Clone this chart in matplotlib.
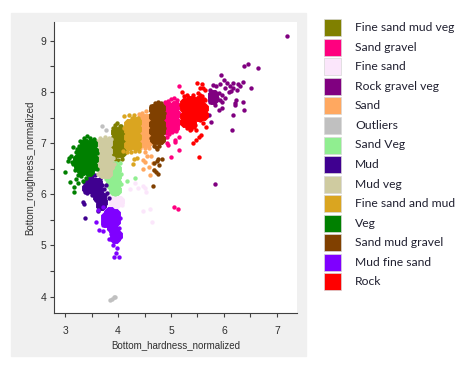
import matplotlib
matplotlib.use("Agg")
import matplotlib.pyplot as plt
from matplotlib.patches import Rectangle

# legend order, also the drawing order
labels = ["Fine sand mud veg", "Sand gravel", "Fine sand", "Rock gravel veg", "Sand", "Outliers",
          "Sand Veg", "Mud", "Mud veg", "Fine sand and mud", "Veg", "Sand mud gravel",
          "Mud fine sand", "Rock"]
colors = ["#808000", "#FF007F", "#FBE6FB", "#800080", "#FFA860", "#C0C0C0", "#90EE90",
          "#3F0090", "#CFCBA0", "#DAA520", "#008000", "#804000", "#7F00FF", "#FF0000"]

# dense middle of each cluster (hardness, roughness)
core = {
    "Mud veg": [(3.69, 7.0), (3.79, 7.0), (3.69, 6.85), (3.8, 6.85), (3.69, 6.7), (3.81, 6.7),
                (3.7, 6.55), (3.83, 6.55), (3.72, 6.42), (3.8, 6.42)],
    "Fine sand mud veg": [(3.96, 7.22), (4.05, 7.22), (3.96, 7.08), (4.05, 7.08), (3.96, 6.94), (4.05, 6.94),
                          (3.97, 6.82), (4.05, 6.82)],
    "Fine sand and mud": [(4.2, 7.38), (4.33, 7.42), (4.2, 7.25), (4.33, 7.27), (4.2, 7.12), (4.33, 7.12),
                          (4.21, 6.97), (4.33, 6.97)],
    "Sand": [(4.46, 7.48), (4.54, 7.48), (4.46, 7.33), (4.54, 7.33), (4.46, 7.18), (4.54, 7.18),
             (4.47, 7.03), (4.54, 7.03)],
    "Sand gravel": [(4.95, 7.7), (5.08, 7.72), (4.95, 7.57), (5.08, 7.57), (4.95, 7.42), (5.08, 7.42),
                    (4.97, 7.32), (5.06, 7.32)],
    "Fine sand": [(3.92, 5.87), (4.02, 5.87), (3.95, 5.82)],
    "Rock gravel veg": [(5.79, 7.95), (5.8, 7.86)],
    "Sand Veg": [(3.86, 6.5), (3.97, 6.5), (3.86, 6.36), (3.97, 6.36), (3.87, 6.22), (3.97, 6.22),
                 (3.92, 6.08), (3.97, 6.08)],
    "Mud": [(3.47, 6.25), (3.6, 6.22), (3.41, 6.12), (3.47, 6.12), (3.54, 6.08), (3.6, 6.1), (3.62, 6.02),
            (3.68, 5.95), (3.62, 5.95), (3.7, 5.86), (3.54, 6.22), (3.68, 5.8)],
    "Veg": [(3.38, 6.98), (3.5, 6.98), (3.3, 6.85), (3.42, 6.85), (3.52, 6.85), (3.24, 6.7), (3.34, 6.7),
            (3.45, 6.7), (3.52, 6.7), (3.26, 6.57), (3.38, 6.55), (3.51, 6.55), (3.32, 6.47), (3.45, 6.45)],
    "Sand mud gravel": [(4.68, 7.66), (4.8, 7.68), (4.68, 7.53), (4.8, 7.53), (4.68, 7.38), (4.8, 7.38),
                        (4.68, 7.23), (4.8, 7.23), (4.69, 7.08), (4.79, 7.08)],
    "Mud fine sand": [(3.82, 5.63), (3.95, 5.62), (3.77, 5.56), (3.82, 5.5), (3.95, 5.48), (3.88, 5.37),
                      (3.92, 5.3), (3.98, 5.2), (3.95, 5.14), (3.85, 5.66), (3.88, 5.56), (3.78, 5.46)],
    "Rock": [(5.27, 7.78), (5.4, 7.82), (5.53, 7.82), (5.27, 7.68), (5.4, 7.68), (5.53, 7.68), (5.6, 7.68),
             (5.27, 7.54), (5.4, 7.54), (5.53, 7.54), (5.27, 7.42), (5.38, 7.4), (5.6, 7.55)],
}

# loose points around the clusters
edge = {
    "Fine sand mud veg": [(3.98, 7.4), (3.94, 7.36), (4.03, 7.33), (3.9, 7.3), (4.1, 7.28), (3.88, 7.1),
                          (4.12, 6.95), (3.9, 6.8), (3.95, 6.7), (4.08, 6.7), (4.0, 6.68), (4.06, 7.33)],
    "Sand gravel": [(4.93, 7.12), (5.02, 7.22), (5.08, 7.06), (5.16, 7.12), (4.95, 6.96), (5.15, 6.87),
                    (5.0, 6.73), (5.16, 8.12), (5.05, 5.75), (5.13, 5.72), (4.92, 7.0), (5.08, 7.02),
                    (4.9, 7.2), (4.97, 7.18), (4.86, 7.1), (4.88, 7.8), (5.0, 7.86), (5.12, 7.84),
                    (4.94, 7.83), (5.06, 7.88), (4.9, 7.22), (5.1, 7.24)],
    "Fine sand": [(4.32, 6.22), (4.23, 6.1), (4.38, 6.12), (4.47, 6.16), (4.53, 6.05), (4.51, 6.12),
                  (4.47, 5.68), (4.61, 5.72), (4.64, 5.46), (3.85, 5.97), (4.08, 5.8), (3.84, 5.78)],
    "Rock gravel veg": [(5.94, 8.33), (5.8, 8.14), (5.85, 8.11), (5.93, 8.16), (6.0, 8.24), (6.06, 8.17),
                        (6.11, 8.12), (6.18, 8.17), (6.26, 8.16), (6.36, 8.2), (6.51, 8.07), (6.31, 8.12),
                        (6.24, 8.05), (6.17, 8.07), (6.13, 8.03), (6.09, 8.01), (6.02, 8.07), (5.74, 8.04),
                        (5.84, 8.01), (5.77, 7.98), (5.73, 7.91), (5.8, 7.94), (5.9, 7.98), (5.96, 7.94),
                        (5.87, 7.88), (5.74, 7.81), (5.79, 7.84), (5.93, 7.85), (6.02, 7.88), (5.84, 7.75),
                        (5.9, 7.65), (5.96, 7.68), (5.96, 7.81), (6.21, 7.79), (6.23, 7.85), (6.2, 7.75),
                        (6.36, 7.8), (6.37, 7.65), (5.72, 7.55), (6.17, 7.55), (5.75, 7.41), (6.15, 7.25),
                        (6.37, 8.51), (6.45, 8.54), (6.64, 8.47), (7.19, 9.1), (5.84, 6.21)],
    "Sand": [(4.5, 6.83), (4.55, 6.75), (4.47, 6.67), (4.51, 6.64), (4.66, 6.62), (4.59, 6.53), (4.48, 6.5),
             (4.68, 6.48), (4.6, 6.38), (4.62, 6.75), (4.4, 7.58), (4.52, 7.62), (4.58, 6.9), (4.46, 7.6),
             (4.42, 6.9), (4.5, 6.9)],
    "Outliers": [(3.85, 3.93), (3.88, 3.96), (3.92, 3.99), (3.95, 4.0), (3.69, 7.34), (3.77, 7.26)],
    "Sand Veg": [(4.17, 6.26), (4.32, 6.31), (3.78, 6.3), (4.06, 6.4), (4.03, 6.62), (3.95, 6.0),
                 (3.82, 6.15), (4.06, 6.2), (3.9, 6.62), (3.96, 6.62), (3.78, 6.45)],
    "Mud": [(3.35, 5.82), (3.33, 5.85), (3.37, 5.53), (3.77, 6.18), (3.35, 6.25), (3.38, 6.05), (3.62, 5.68),
            (3.79, 6.02), (3.82, 5.92), (3.5, 6.35), (3.57, 6.38), (3.69, 6.18), (3.42, 6.3), (3.65, 6.3),
            (3.75, 5.98), (3.42, 6.02), (3.5, 5.98), (3.58, 5.88), (3.74, 6.1)],
    "Mud veg": [(3.6, 7.05), (3.86, 7.08), (3.62, 6.4), (3.92, 6.6), (3.9, 6.72), (3.76, 7.12), (3.66, 7.1),
                (3.82, 7.1)],
    "Fine sand and mud": [(4.12, 7.53), (4.21, 7.55), (4.3, 6.7), (4.29, 6.6), (4.35, 6.72), (4.1, 6.85),
                          (4.25, 6.82), (4.38, 7.5), (4.3, 7.55), (4.12, 7.3), (4.4, 6.85), (4.16, 6.82),
                          (4.32, 6.84), (4.26, 7.5)],
    "Veg": [(3.42, 7.14), (3.47, 7.11), (3.28, 7.05), (3.14, 6.92), (3.05, 6.66), (3.08, 6.71), (3.13, 6.64),
            (3.0, 6.44), (3.18, 6.48), (3.2, 6.3), (3.09, 6.24), (3.16, 6.14), (3.34, 6.26), (3.25, 6.38),
            (3.24, 6.22), (3.17, 6.04), (3.18, 6.6), (3.12, 6.75), (3.2, 6.82), (3.27, 6.94), (3.36, 7.1),
            (3.55, 7.08), (3.4, 6.32), (3.3, 6.36), (3.6, 6.5), (3.6, 6.8), (3.18, 6.7), (3.14, 6.6),
            (3.22, 6.88), (3.31, 7.0), (3.2, 6.52)],
    "Sand mud gravel": [(4.73, 6.88), (4.83, 6.69), (4.76, 6.69), (4.68, 6.62), (4.73, 6.66), (4.78, 6.57),
                        (4.68, 6.48), (4.72, 6.44), (4.75, 6.4), (4.66, 6.16), (4.76, 7.8), (4.82, 7.78),
                        (4.63, 7.72), (4.87, 7.6), (4.87, 7.3), (4.62, 7.1), (4.68, 6.95), (4.78, 6.95),
                        (4.72, 6.92), (4.7, 7.79)],
    "Mud fine sand": [(3.58, 5.45), (3.64, 5.3), (3.71, 5.29), (3.82, 5.13), (3.87, 5.12), (4.04, 5.17),
                      (3.98, 4.96), (3.96, 4.85), (3.93, 4.77), (4.02, 4.78), (3.91, 5.01), (4.04, 5.53),
                      (3.63, 5.69), (4.02, 5.35), (3.72, 5.75), (3.72, 5.4), (3.82, 5.32), (3.86, 5.22)],
    "Rock": [(5.5, 8.18), (5.58, 8.16), (5.61, 8.07), (5.65, 8.04), (5.55, 8.08), (5.2, 8.0), (5.25, 7.92),
             (5.51, 7.98), (5.42, 7.94), (5.33, 7.91), (5.65, 7.85), (5.38, 7.28), (5.48, 7.26), (5.67, 7.32),
             (5.55, 7.45), (5.57, 7.16), (5.52, 7.12), (5.48, 7.06), (5.41, 7.0), (5.52, 6.74), (5.3, 7.36),
             (5.24, 7.39), (5.61, 7.4), (5.62, 7.86), (5.18, 7.75), (5.45, 7.35), (5.55, 7.95), (5.3, 7.3),
             (5.44, 7.32), (5.35, 7.26), (5.58, 7.92), (5.3, 7.95)],
}

xticks = [3, 3.5, 4, 4.5, 5, 5.5, 6, 6.5, 7]
yticks = [4, 4.5, 5, 5.5, 6, 6.5, 7, 7.5, 8, 8.5, 9]
WIDTH, HEIGHT = 474, 368

fig = plt.figure(figsize=(WIDTH / 100, HEIGHT / 100), dpi=100)
fig.patches.append(Rectangle((11 / WIDTH, 1 - 356 / HEIGHT), 295 / WIDTH, 343 / HEIGHT,
                             transform=fig.transFigure, color="#F0F0F0", zorder=-5))

ax = fig.add_axes([53.5 / WIDTH, 1 - 313 / HEIGHT, 243.5 / WIDTH, 291 / HEIGHT])
for i, name in enumerate(labels):
    if name in core:
        ax.scatter(*zip(*core[name]), s=72, marker="8", color=colors[i], linewidths=0, zorder=2 + i * 0.1)
    ax.scatter(*zip(*edge[name]), s=10, color=colors[i], linewidths=0, zorder=2 + i * 0.1)

ax.set_xlim(2.78, 7.38)
ax.set_ylim(3.68, 9.37)
ax.set_xticks(xticks)
ax.set_yticks(yticks)
ax.set_xticklabels([str(t) if t == int(t) else "" for t in xticks])
ax.set_yticklabels([str(t) if t == int(t) else "" for t in yticks])
ax.tick_params(length=3, width=0.8, color="#404040", labelsize=7.5, labelcolor="#303030")
ax.tick_params(axis="x", pad=6)
ax.tick_params(axis="y", pad=2)
for side in ["top", "right"]:
    ax.spines[side].set_visible(False)
for side in ["left", "bottom"]:
    ax.spines[side].set_color("#404040")
for t in ax.get_xticklabels() + ax.get_yticklabels():
    t.set_family("Liberation Sans")
ax.set_xlabel("Bottom_hardness_normalized", family="Liberation Sans", fontsize=7, color="#303030", labelpad=3)
ax.set_ylabel("Bottom_roughness_normalized", family="Liberation Sans", fontsize=7, color="#303030", labelpad=4)

# hand made legend right of the plot
for i, name in enumerate(labels):
    y = 27.7 + i * 19.55
    fig.patches.append(Rectangle((323.5 / WIDTH, 1 - (y + 8.5) / HEIGHT), 17 / WIDTH, 17 / HEIGHT,
                                 transform=fig.transFigure, facecolor=colors[i],
                                 edgecolor="#D8D8D8", linewidth=0.5))
    fig.text(355 / WIDTH, 1 - y / HEIGHT, name, family="Lato", fontsize=8.7, color="#202030", va="center")

fig.savefig("out.png", dpi=100)
